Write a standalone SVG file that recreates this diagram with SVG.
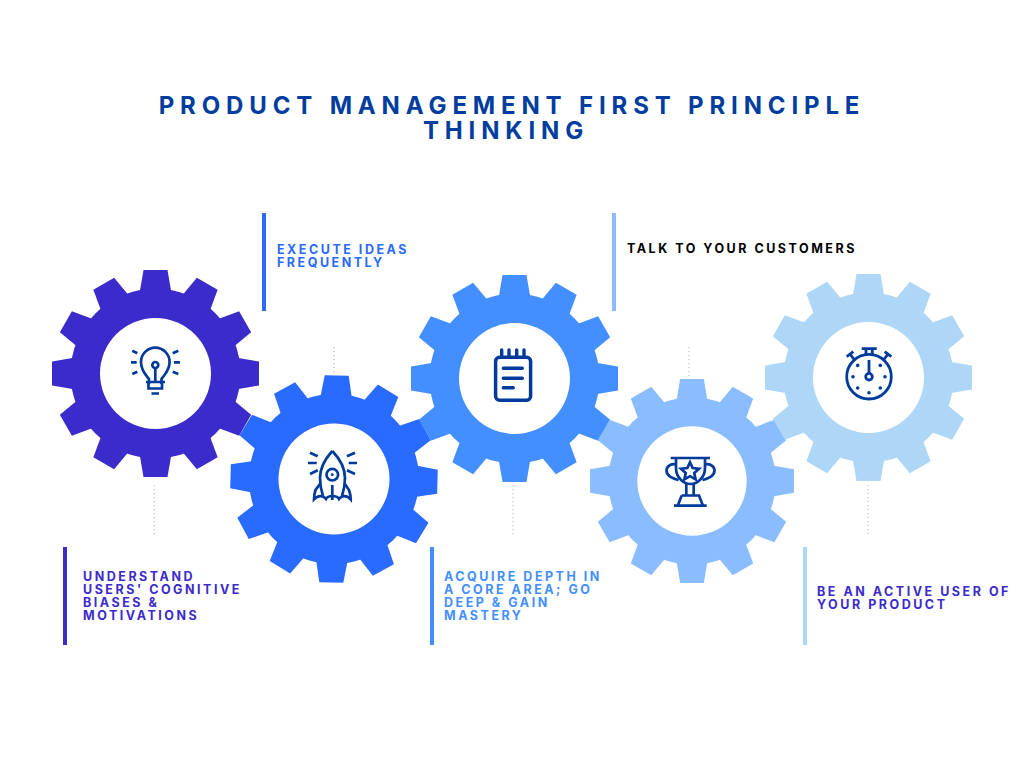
<svg xmlns="http://www.w3.org/2000/svg" xmlns:xlink="http://www.w3.org/1999/xlink" width="1024" height="768" viewBox="0 0 1024 768">
<style>
.title{font:700 24px "Inter","Liberation Sans",sans-serif;letter-spacing:5.85px;fill:#003d9e;text-anchor:middle}
.lab{font:700 12.5px "Inter","Liberation Sans",sans-serif;letter-spacing:2.52px}
.ic{fill:none;stroke:#003a9b;stroke-width:2.7}
.dot{stroke:#aaa;stroke-width:1;stroke-dasharray:1 3;fill:none}
.hole{fill:#fff}
</style>
<defs>
<path id="t" d="M-12-103.5H12L15.500-83H-15.500Z"/>
<g id="gear">
<circle r="85"/>
<use href="#t"/><use href="#t" transform="rotate(30)"/><use href="#t" transform="rotate(60)"/><use href="#t" transform="rotate(90)"/><use href="#t" transform="rotate(120)"/><use href="#t" transform="rotate(150)"/><use href="#t" transform="rotate(180)"/><use href="#t" transform="rotate(210)"/><use href="#t" transform="rotate(240)"/><use href="#t" transform="rotate(270)"/><use href="#t" transform="rotate(300)"/><use href="#t" transform="rotate(330)"/>
<circle r="55.500" class="hole"/>
</g>
</defs>
<rect width="1024" height="768" fill="#fff"/>
<g id="title">
<text class="title"><tspan x="512" y="114">PRODUCT MANAGEMENT FIRST PRINCIPLE</tspan><tspan x="506" y="139">THINKING</tspan></text>
</g>
<g id="connectors">
<path class="dot" d="M334 347V375M154 485V535M513 485V535M689 347V378M868 485V535"/>
</g>
<g id="gear1">
<use href="#gear" transform="translate(155.500 373.500)" fill="#3c2bcb"/>
<g class="ic">
<path d="M149 384V379C146 375 141 371 141 362A14.300 14.300 0 0 1 169.600 362C169.600 371 164 375 161.500 379V384"/>
<path d="M155.300 368V381M146 382H165M148.500 381.500V388.500H162V381.500M151.500 393.500H159M132.300 350.700L137.300 353.300M131 362.300H136.700M132.300 374L137.300 371.700M178.300 350.700L172.700 353.300M174 362.300H180M172.700 371.700L178.300 374"/>
<circle cx="155.300" cy="365" r="3"/>
</g>
<rect x="63" y="547" width="4" height="98" fill="#3c2bcb"/>
<text class="lab" fill="#3c2bcb"><tspan x="83" y="581">UNDERSTAND</tspan><tspan x="83" y="594">USERS' COGNITIVE</tspan><tspan x="83" y="607">BIASES &amp;</tspan><tspan x="83" y="620">MOTIVATIONS</tspan></text>
</g>
<g id="gear2">
<use href="#gear" transform="translate(334 479) rotate(1.500)" fill="#2a6bff"/>
<g class="ic">
<path d="M332.300 451C325 459 320 468 320 478C320 484 321 490 323 496M332.300 451C340 459 345 468 345 478C345 484 344 490 342 496"/>
<path d="M320 484L315.500 490C314.500 493 314 496 314 499.300C318 495 323 495 326 499C328 495 337 495 339 499C342 495 347 495 350.700 499.300C350.700 496 350 493 349 490L345 484"/>
<path d="M332.300 485V500M310 452.700L317.700 456.300M308 463H316.700M310 474L317.700 470.300M355 452.700L347 456.300M348.700 463H357M347 470.300L355 474"/>
<circle cx="332.300" cy="474.700" r="5.800"/>
<circle cx="332.300" cy="474.700" r="1.400" fill="#003a9b" stroke="none"/>
</g>
<rect x="262" y="213" width="4" height="98" fill="#2a6bff"/>
<text class="lab" fill="#2a6bff"><tspan x="277" y="253.500">EXECUTE IDEAS</tspan><tspan x="277" y="266.500">FREQUENTLY</tspan></text>
</g>
<g id="gear3">
<use href="#gear" transform="translate(514.500 378.500)" fill="#448fff"/>
<g class="ic">
<rect x="495.600" y="357.300" width="35" height="43" rx="4" style="stroke-width:3.500"/>
<path d="M501.700 356V350M509 356V350M516.700 356V350M524 356V350M503.300 368.300H522.300M503.300 378.300H522.300M503.300 387.700H513.300" style="stroke-width:3.400;stroke-linecap:round"/>
</g>
<rect x="430" y="547" width="4" height="98" fill="#448fff"/>
<text class="lab" fill="#448fff"><tspan x="444" y="581">ACQUIRE DEPTH IN</tspan><tspan x="444" y="594">A CORE AREA; GO</tspan><tspan x="444" y="607">DEEP &amp; GAIN</tspan><tspan x="444" y="620">MASTERY</tspan></text>
</g>
<g id="gear4">
<use href="#gear" transform="translate(692 481) scale(.985)" fill="#8abdff"/>
<g class="ic">
<path d="M670.700 458H710M676 458V468C676 478 684 484 690.500 484C697 484 705 478 705 468V458"/>
<path d="M676 464.500C672 463.500 666.500 465.500 666.500 470.500C666.500 476 672 478 678.500 480M705 464.500C709 463.500 714.500 465.500 714.500 470.500C714.500 476 709 478 702.500 480"/>
<path d="M686.300 484V495M693.700 484V495M681.700 495.500H699L703 505.700M681.700 495.500L677.700 505.700M674 505.700H706.700"/>
<path d="M690 462.200L692.650 468.060L699.030 468.760L694.280 473.090L695.580 479.390L690 476.200L684.420 479.390L685.720 473.090L680.970 468.760L687.350 468.060Z"/>
</g>
<rect x="612" y="213" width="4" height="98" fill="#8abdff"/>
<text class="lab" fill="#000" x="627" y="253">TALK TO YOUR CUSTOMERS</text>
</g>
<g id="gear5">
<use href="#gear" transform="translate(868.500 377.500)" fill="#add6f7"/>
<g class="ic" style="stroke-width:2.800">
<circle cx="869" cy="376.700" r="22.300"/>
<circle cx="869" cy="376.700" r="3.300"/>
<path d="M861.700 348.700H876.700M866 349V355M872.300 349V355M869 360V373M846.700 356.700L853.300 351.700M850 354L854.500 360M891.300 356.700L884.700 351.700M888 354L883.500 360"/>
</g>
<g fill="#003a9b">
<circle cx="857.700" cy="365.400" r="1.800"/><circle cx="880.300" cy="365.400" r="1.800"/><circle cx="853" cy="376.700" r="1.800"/><circle cx="885" cy="376.700" r="1.800"/><circle cx="857.700" cy="388" r="1.800"/><circle cx="880.300" cy="388" r="1.800"/><circle cx="869" cy="392.700" r="1.800"/>
</g>
<rect x="803" y="547" width="4" height="98" fill="#add6f7"/>
<text class="lab" fill="#3c2bcb"><tspan x="817" y="596">BE AN ACTIVE USER OF</tspan><tspan x="817" y="609">YOUR PRODUCT</tspan></text>
</g>
</svg>
